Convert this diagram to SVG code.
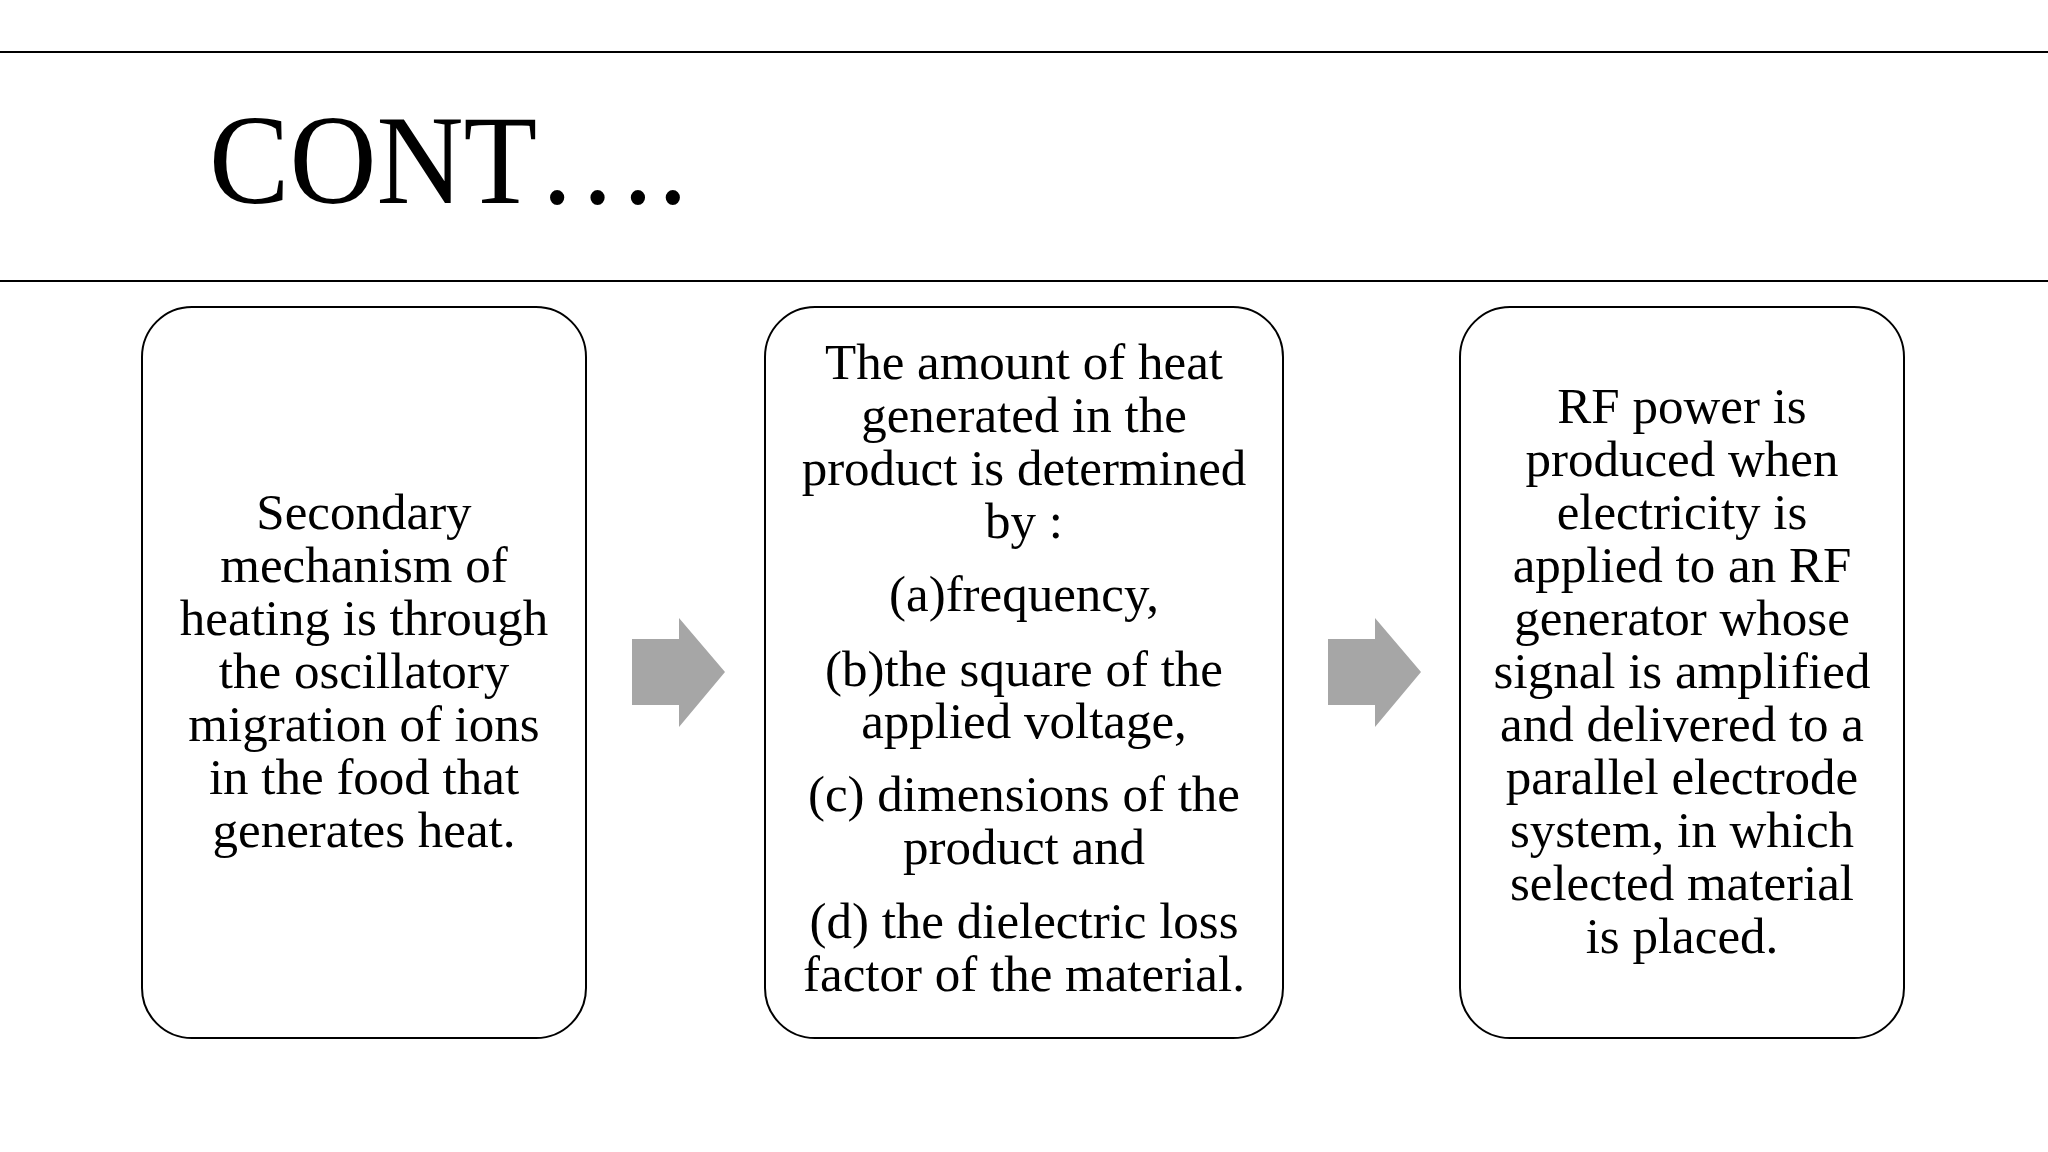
<svg xmlns="http://www.w3.org/2000/svg" width="2048" height="1152" viewBox="0 0 2048 1152">
<style>
.t{font-family:"Liberation Serif","Times New Roman",serif;font-size:51px;fill:#000;text-anchor:middle}
.box{fill:#fff;stroke:#000;stroke-width:2}
.arr{fill:#a6a6a6}
</style>
<rect width="2048" height="1152" fill="#fff"/>
<line x1="0" y1="52" x2="2048" y2="52" stroke="#000" stroke-width="2"/>
<line x1="0" y1="281" x2="2048" y2="281" stroke="#000" stroke-width="2"/>
<text x="209" y="203" font-family="Liberation Serif, Times New Roman, serif" font-size="126" fill="#000" textLength="479" lengthAdjust="spacingAndGlyphs">CONT….</text>
<g id="node1">
<rect class="box" x="142" y="307" width="444" height="731" rx="50"/>
<text class="t" x="364" y="529">Secondary</text>
<text class="t" x="364" y="582">mechanism of</text>
<text class="t" x="364" y="635">heating is through</text>
<text class="t" x="364" y="688">the oscillatory</text>
<text class="t" x="364" y="741">migration of ions</text>
<text class="t" x="364" y="794">in the food that</text>
<text class="t" x="364" y="847">generates heat.</text>
</g>
<g id="node2">
<rect class="box" x="765" y="307" width="518" height="731" rx="50"/>
<text class="t" x="1024" y="379">The amount of heat</text>
<text class="t" x="1024" y="432">generated in the</text>
<text class="t" x="1024" y="485">product is determined</text>
<text class="t" x="1024" y="538">by :</text>
<text class="t" x="1024" y="611">(a)frequency,</text>
<text class="t" x="1024" y="686">(b)the square of the</text>
<text class="t" x="1024" y="738">applied voltage,</text>
<text class="t" x="1024" y="811">(c) dimensions of the</text>
<text class="t" x="1024" y="864">product and</text>
<text class="t" x="1024" y="938">(d) the dielectric loss</text>
<text class="t" x="1024" y="991">factor of the material.</text>
</g>
<g id="node3">
<rect class="box" x="1460" y="307" width="444" height="731" rx="50"/>
<text class="t" x="1682" y="423">RF power is</text>
<text class="t" x="1682" y="476">produced when</text>
<text class="t" x="1682" y="529">electricity is</text>
<text class="t" x="1682" y="582">applied to an RF</text>
<text class="t" x="1682" y="635">generator whose</text>
<text class="t" x="1682" y="688">signal is amplified</text>
<text class="t" x="1682" y="741">and delivered to a</text>
<text class="t" x="1682" y="794">parallel electrode</text>
<text class="t" x="1682" y="847">system, in which</text>
<text class="t" x="1682" y="900">selected material</text>
<text class="t" x="1682" y="953">is placed.</text>
</g>
<g id="connectors">
<polygon class="arr" points="632,639 679,639 679,618 725,672 679,727 679,705 632,705"/>
<polygon class="arr" points="1328,639 1375,639 1375,618 1421,672 1375,727 1375,705 1328,705"/>
</g>
</svg>
